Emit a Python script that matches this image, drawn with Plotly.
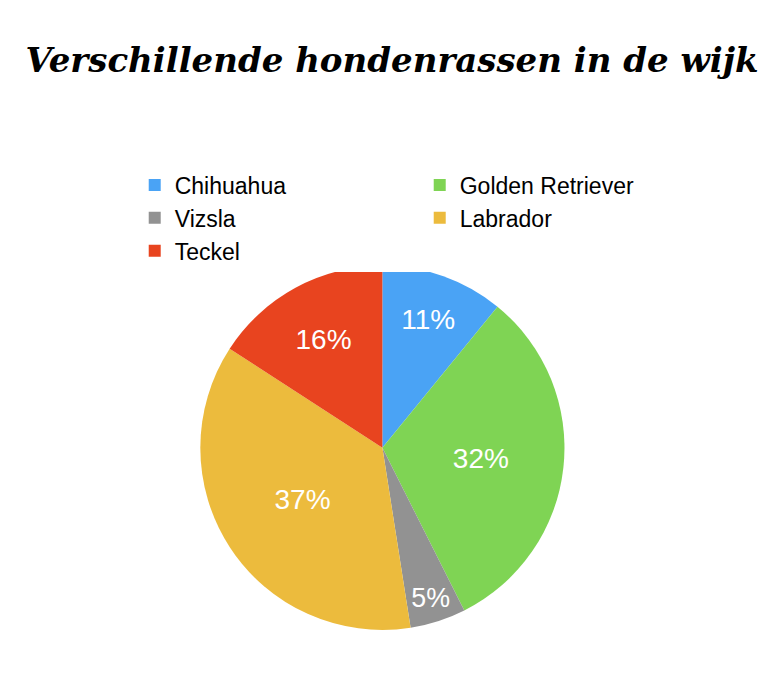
import plotly.graph_objects as go

labels = ["Chihuahua", "Golden Retriever", "Vizsla", "Labrador", "Teckel"]
values = [11, 32, 5, 37, 16]
texts = ["11%", "32%", "5%", "37%", "16%"]
colors = ["#4aa3f5", "#7fd454", "#929292", "#ecbb3d", "#e8441f"]

fig = go.Figure(go.Pie(
    labels=labels, values=values, text=texts, texttemplate="%{text}",
    textposition="inside", insidetextorientation="horizontal",
    sort=False, direction="clockwise", rotation=0,
    marker=dict(colors=colors, line=dict(width=0)),
    textfont=dict(color="white", size=28, family="Liberation Sans"),
    domain=dict(x=[0.25, 0.725], y=[0.10, 0.627]),
))
fig.update_layout(
    width=768, height=691, margin=dict(l=0, r=0, t=0, b=0),
    paper_bgcolor="white", plot_bgcolor="white",
    title=dict(text="<b><i>Verschillende hondenrassen in de wijk</i></b>", x=0.5, y=0.925,
               xanchor="center", yanchor="middle",
               font=dict(size=34, family="DejaVu Serif", color="black")),
    legend=dict(orientation="h", x=0.165, y=0.775, xanchor="left", yanchor="top",
                entrywidth=240, entrywidthmode="pixels",
                font=dict(size=23, family="Liberation Sans", color="black"),
                traceorder="normal", itemwidth=30),
)
fig.write_html("out.html")
